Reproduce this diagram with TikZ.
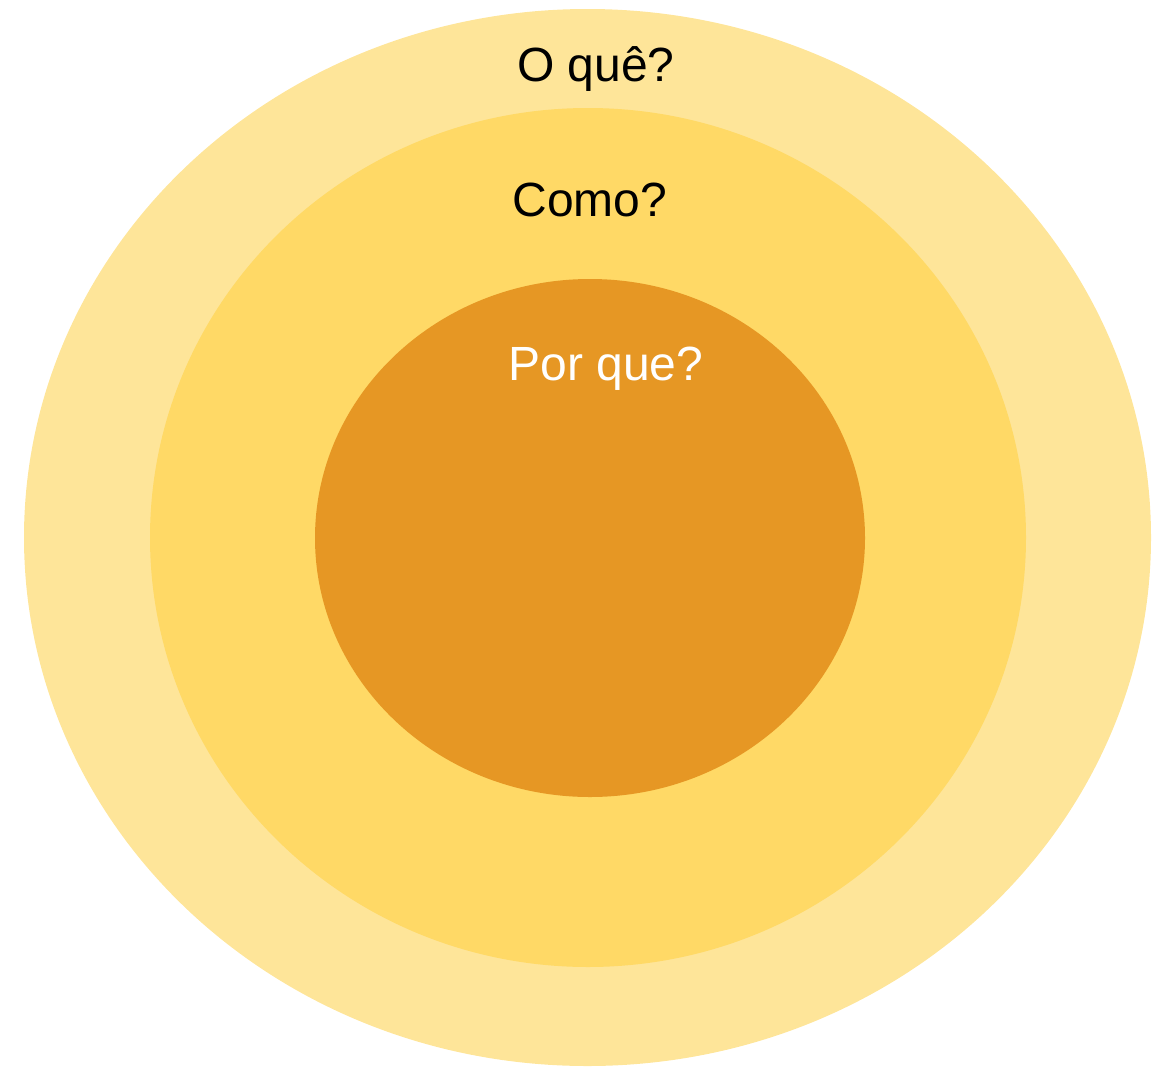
\documentclass[tikz,border=0pt]{standalone}
\usepackage{fontspec}
\setmainfont{Liberation Sans}
\usetikzlibrary{shapes.geometric}
\definecolor{outerc}{HTML}{FEE599}
\definecolor{midc}{HTML}{FFD966}
\definecolor{innerc}{HTML}{E69724}
\tikzset{
  ring/.style={ellipse, draw=none, inner sep=0pt, outer sep=0pt},
  lbl/.style={anchor=base, inner sep=0pt, font=\fontsize{48}{52}\selectfont}
}
\begin{document}
\begin{tikzpicture}[x=1pt,y=-1pt]
\useasboundingbox (0,0) rectangle (1167,1071);
\node[ring, fill=outerc, minimum width=1127pt, minimum height=1057pt] (outer) at (587.5,537.5) {};
\node[ring, fill=midc, minimum width=876pt, minimum height=859pt] (middle) at (588,537.5) {};
\node[ring, fill=innerc, minimum width=550pt, minimum height=518pt] (inner) at (590,538) {};
\node[lbl, text=black] (what) at (596,81) {O quê?};
\node[lbl, text=black] (how) at (590,216) {Como?};
\node[lbl, text=white] (why) at (606,380) {Por que?};
\end{tikzpicture}
\end{document}
